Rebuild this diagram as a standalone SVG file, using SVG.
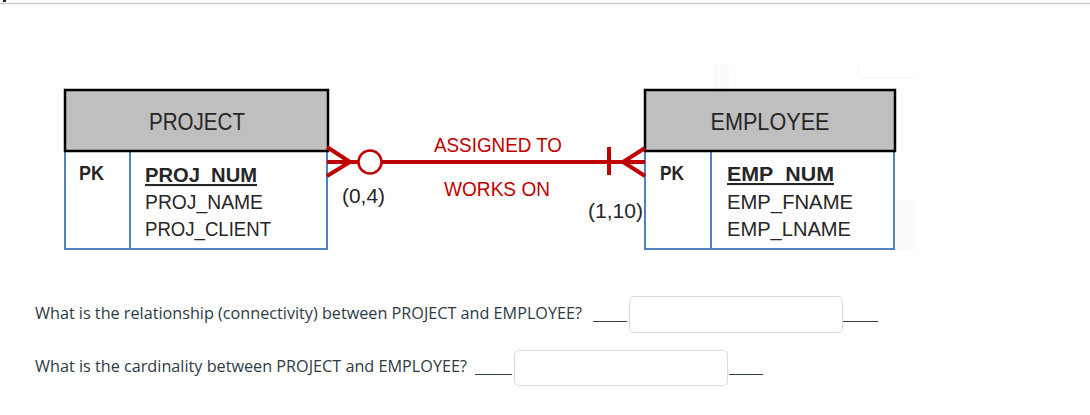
<svg xmlns="http://www.w3.org/2000/svg" width="1090" height="415" viewBox="0 0 1090 415">
<style>
.hdr{fill:#bfbfbf;stroke:#000;stroke-width:2.5}
.body{fill:#fff;stroke:#4f81bd;stroke-width:2}
.t{font-family:"Liberation Sans",Arial,sans-serif;fill:#262626}
.title{font-size:24px;text-anchor:middle}
.pk{font-size:20px;font-weight:bold}
.attr{font-size:21px}
.key{font-size:21px;font-weight:bold;text-decoration:underline}
.rel{font-family:"Liberation Sans",Arial,sans-serif;fill:#c00000;font-size:21px;text-anchor:middle}
.card{font-family:"Liberation Sans",Arial,sans-serif;fill:#262626;font-size:21px}
.cn{stroke:#c00000;stroke-width:4;fill:none}
.q{font-family:"Open Sans",sans-serif;font-size:16px;fill:#2d3b45}
.box{fill:#fff;stroke:#dcdcdc;stroke-width:1}
</style>
<rect x="0" y="0" width="1090" height="415" fill="#fff"/>
<line x1="0" y1="3.5" x2="1090" y2="3.5" stroke="#c8c8c8" stroke-width="1.5"/>
<rect x="3" y="0" width="3" height="2" fill="#222"/>
<g id="artifacts" opacity="0.3">
<rect x="713" y="65" width="16" height="185" fill="#f3f3f3"/>
<path d="M858 65 V74 Q858 78 862 78 H915" fill="none" stroke="#eeeeee" stroke-width="2"/>
<line x1="896" y1="70" x2="896" y2="78" stroke="#eeeeee" stroke-width="2"/>
<rect x="896" y="200" width="20" height="50" fill="#f5f5f5"/>
</g>
<g id="project">
<rect class="body" x="65" y="151" width="262" height="98"/>
<line x1="130" y1="151" x2="130" y2="249" stroke="#4f81bd" stroke-width="2"/>
<rect class="hdr" x="65" y="90" width="263" height="61"/>
<text class="t title" x="197" y="130" textLength="96" lengthAdjust="spacingAndGlyphs">PROJECT</text>
<text class="t pk" x="79" y="180" textLength="25" lengthAdjust="spacingAndGlyphs">PK</text>
<text class="t key" x="145" y="182" textLength="112" lengthAdjust="spacingAndGlyphs">PROJ_NUM</text>
<text class="t attr" x="145" y="209" textLength="118" lengthAdjust="spacingAndGlyphs">PROJ_NAME</text>
<text class="t attr" x="145" y="236" textLength="126" lengthAdjust="spacingAndGlyphs">PROJ_CLIENT</text>
</g>
<g id="employee">
<rect class="body" x="645" y="151" width="249" height="98"/>
<line x1="711" y1="151" x2="711" y2="249" stroke="#4f81bd" stroke-width="2"/>
<rect class="hdr" x="645" y="90" width="250" height="61"/>
<text class="t title" x="770" y="130" textLength="119" lengthAdjust="spacingAndGlyphs">EMPLOYEE</text>
<text class="t pk" x="660" y="180" textLength="24" lengthAdjust="spacingAndGlyphs">PK</text>
<text class="t key" x="727" y="181" textLength="107" lengthAdjust="spacingAndGlyphs">EMP_NUM</text>
<text class="t attr" x="727" y="209" textLength="126" lengthAdjust="spacingAndGlyphs">EMP_FNAME</text>
<text class="t attr" x="727" y="236" textLength="124" lengthAdjust="spacingAndGlyphs">EMP_LNAME</text>
</g>
<g id="connectors">
<path class="cn" d="M327 147 L350 162 L327 176 M327 162 H358"/>
<circle cx="370" cy="162" r="11.5" fill="#fff" stroke="#c00000" stroke-width="2.5"/>
<path class="cn" d="M381.5 162 H645 M609 147 V175 M645 148 L623 162 L645 176"/>
<text class="rel" x="498" y="152" textLength="128" lengthAdjust="spacingAndGlyphs">ASSIGNED TO</text>
<text class="rel" x="497" y="196" textLength="106" lengthAdjust="spacingAndGlyphs">WORKS ON</text>
<text class="card" x="342" y="203" textLength="43" lengthAdjust="spacingAndGlyphs">(0,4)</text>
<text class="card" x="588" y="218" textLength="55" lengthAdjust="spacingAndGlyphs">(1,10)</text>
</g>
<g id="question1">
<text class="q" x="35" y="319" textLength="547" lengthAdjust="spacingAndGlyphs">What is the relationship (connectivity) between PROJECT and EMPLOYEE?</text>
<text class="q" x="593" y="320" textLength="34" lengthAdjust="spacingAndGlyphs">_____</text>
<rect class="box" x="629.5" y="296.5" width="213" height="36" rx="4"/>
<text class="q" x="843" y="320" textLength="35" lengthAdjust="spacingAndGlyphs">_____</text>
</g>
<g id="question2">
<text class="q" x="35" y="372" textLength="432" lengthAdjust="spacingAndGlyphs">What is the cardinality between PROJECT and EMPLOYEE?</text>
<text class="q" x="475" y="373" textLength="37" lengthAdjust="spacingAndGlyphs">_____</text>
<rect class="box" x="514.5" y="350.5" width="213" height="35" rx="4"/>
<text class="q" x="729" y="373" textLength="34" lengthAdjust="spacingAndGlyphs">_____</text>
</g>
</svg>
